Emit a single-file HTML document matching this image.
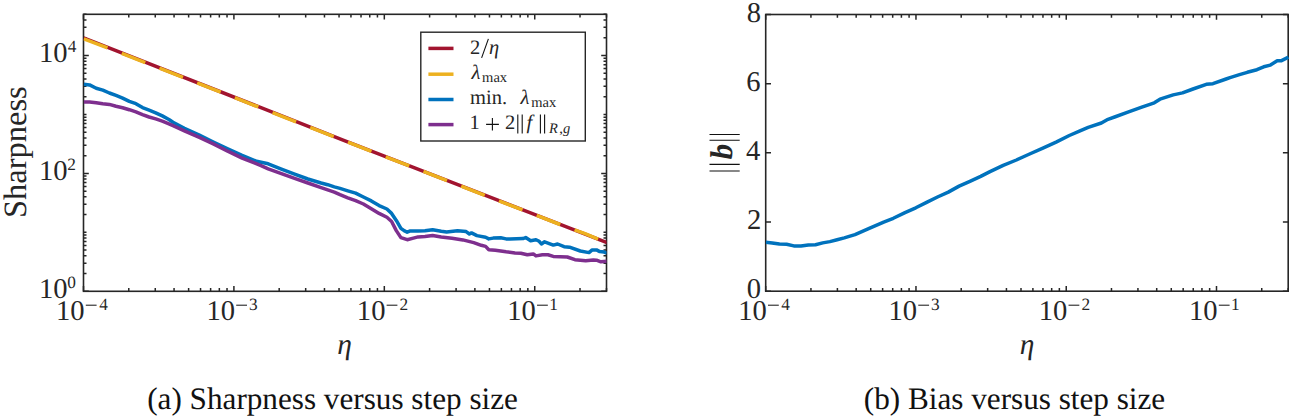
<!DOCTYPE html>
<html><head><meta charset="utf-8"><style>
html,body{margin:0;padding:0;background:#fff;width:1291px;height:416px;overflow:hidden}
svg{display:block;font-family:"Liberation Serif",serif;text-rendering:geometricPrecision}
</style></head><body>
<svg width="1291" height="416" viewBox="0 0 1291 416">
<defs>
<clipPath id="clipL"><rect x="83.5" y="14.3" width="523.0" height="277.0"/></clipPath>
<clipPath id="clipR"><rect x="765.7" y="14.5" width="524.0" height="276.7"/></clipPath>
</defs>
<rect width="1291" height="416" fill="#fff"/>
<rect x="83.50" y="14.30" width="523.00" height="277.00" fill="none" stroke="#262626" stroke-width="1.6"/><path d="M83.50 291.30v-5.3M83.50 14.30v5.3M128.78 291.30v-3.3M128.78 14.30v3.3M155.26 291.30v-3.3M155.26 14.30v3.3M174.06 291.30v-3.3M174.06 14.30v3.3M188.63 291.30v-3.3M188.63 14.30v3.3M200.54 291.30v-3.3M200.54 14.30v3.3M210.61 291.30v-3.3M210.61 14.30v3.3M219.34 291.30v-3.3M219.34 14.30v3.3M227.03 291.30v-3.3M227.03 14.30v3.3M233.91 291.30v-5.3M233.91 14.30v5.3M279.19 291.30v-3.3M279.19 14.30v3.3M305.68 291.30v-3.3M305.68 14.30v3.3M324.47 291.30v-3.3M324.47 14.30v3.3M339.05 291.30v-3.3M339.05 14.30v3.3M350.95 291.30v-3.3M350.95 14.30v3.3M361.02 291.30v-3.3M361.02 14.30v3.3M369.75 291.30v-3.3M369.75 14.30v3.3M377.44 291.30v-3.3M377.44 14.30v3.3M384.32 291.30v-5.3M384.32 14.30v5.3M429.60 291.30v-3.3M429.60 14.30v3.3M456.09 291.30v-3.3M456.09 14.30v3.3M474.88 291.30v-3.3M474.88 14.30v3.3M489.46 291.30v-3.3M489.46 14.30v3.3M501.37 291.30v-3.3M501.37 14.30v3.3M511.44 291.30v-3.3M511.44 14.30v3.3M520.16 291.30v-3.3M520.16 14.30v3.3M527.85 291.30v-3.3M527.85 14.30v3.3M534.74 291.30v-5.3M534.74 14.30v5.3M580.01 291.30v-3.3M580.01 14.30v3.3M606.50 291.30v-3.3M606.50 14.30v3.3" stroke="#262626" stroke-width="1.5" fill="none"/><path d="M83.50 291.30h5.3M606.50 291.30h-5.3M83.50 273.55h3.0M606.50 273.55h-3.0M83.50 263.17h3.0M606.50 263.17h-3.0M83.50 255.81h3.0M606.50 255.81h-3.0M83.50 250.10h3.0M606.50 250.10h-3.0M83.50 245.43h3.0M606.50 245.43h-3.0M83.50 241.48h3.0M606.50 241.48h-3.0M83.50 238.06h3.0M606.50 238.06h-3.0M83.50 235.05h3.0M606.50 235.05h-3.0M83.50 232.35h3.0M606.50 232.35h-3.0M83.50 214.60h3.0M606.50 214.60h-3.0M83.50 204.22h3.0M606.50 204.22h-3.0M83.50 196.86h3.0M606.50 196.86h-3.0M83.50 191.15h3.0M606.50 191.15h-3.0M83.50 186.48h3.0M606.50 186.48h-3.0M83.50 182.53h3.0M606.50 182.53h-3.0M83.50 179.11h3.0M606.50 179.11h-3.0M83.50 176.10h3.0M606.50 176.10h-3.0M83.50 173.40h5.3M606.50 173.40h-5.3M83.50 155.65h3.0M606.50 155.65h-3.0M83.50 145.27h3.0M606.50 145.27h-3.0M83.50 137.91h3.0M606.50 137.91h-3.0M83.50 132.20h3.0M606.50 132.20h-3.0M83.50 127.53h3.0M606.50 127.53h-3.0M83.50 123.58h3.0M606.50 123.58h-3.0M83.50 120.16h3.0M606.50 120.16h-3.0M83.50 117.15h3.0M606.50 117.15h-3.0M83.50 114.45h3.0M606.50 114.45h-3.0M83.50 96.70h3.0M606.50 96.70h-3.0M83.50 86.32h3.0M606.50 86.32h-3.0M83.50 78.96h3.0M606.50 78.96h-3.0M83.50 73.25h3.0M606.50 73.25h-3.0M83.50 68.58h3.0M606.50 68.58h-3.0M83.50 64.63h3.0M606.50 64.63h-3.0M83.50 61.21h3.0M606.50 61.21h-3.0M83.50 58.20h3.0M606.50 58.20h-3.0M83.50 55.50h5.3M606.50 55.50h-5.3M83.50 37.75h3.0M606.50 37.75h-3.0M83.50 27.37h3.0M606.50 27.37h-3.0M83.50 20.01h3.0M606.50 20.01h-3.0M83.50 14.30h3.0M606.50 14.30h-3.0" stroke="#262626" stroke-width="1.5" fill="none"/><rect x="765.70" y="14.50" width="522.50" height="276.70" fill="none" stroke="#262626" stroke-width="1.6"/><path d="M765.70 291.20v-5.3M765.70 14.50v5.3M810.94 291.20v-3.3M810.94 14.50v3.3M837.40 291.20v-3.3M837.40 14.50v3.3M856.17 291.20v-3.3M856.17 14.50v3.3M870.73 291.20v-3.3M870.73 14.50v3.3M882.63 291.20v-3.3M882.63 14.50v3.3M892.69 291.20v-3.3M892.69 14.50v3.3M901.41 291.20v-3.3M901.41 14.50v3.3M909.09 291.20v-3.3M909.09 14.50v3.3M915.97 291.20v-5.3M915.97 14.50v5.3M961.20 291.20v-3.3M961.20 14.50v3.3M987.66 291.20v-3.3M987.66 14.50v3.3M1006.44 291.20v-3.3M1006.44 14.50v3.3M1021.00 291.20v-3.3M1021.00 14.50v3.3M1032.90 291.20v-3.3M1032.90 14.50v3.3M1042.96 291.20v-3.3M1042.96 14.50v3.3M1051.67 291.20v-3.3M1051.67 14.50v3.3M1059.36 291.20v-3.3M1059.36 14.50v3.3M1066.24 291.20v-5.3M1066.24 14.50v5.3M1111.47 291.20v-3.3M1111.47 14.50v3.3M1137.93 291.20v-3.3M1137.93 14.50v3.3M1156.71 291.20v-3.3M1156.71 14.50v3.3M1171.27 291.20v-3.3M1171.27 14.50v3.3M1183.17 291.20v-3.3M1183.17 14.50v3.3M1193.23 291.20v-3.3M1193.23 14.50v3.3M1201.94 291.20v-3.3M1201.94 14.50v3.3M1209.63 291.20v-3.3M1209.63 14.50v3.3M1216.50 291.20v-5.3M1216.50 14.50v5.3M1261.74 291.20v-3.3M1261.74 14.50v3.3M1288.20 291.20v-3.3M1288.20 14.50v3.3" stroke="#262626" stroke-width="1.5" fill="none"/><path d="M765.70 291.20h5.3M1288.20 291.20h-5.3M765.70 222.02h5.3M1288.20 222.02h-5.3M765.70 152.85h5.3M1288.20 152.85h-5.3M765.70 83.68h5.3M1288.20 83.68h-5.3M765.70 14.50h5.3M1288.20 14.50h-5.3" stroke="#262626" stroke-width="1.5" fill="none"/><g clip-path="url(#clipL)" fill="none" stroke-linejoin="round" stroke-linecap="butt"><path d="M83.8 84.2 L89.6 84.9 L96.2 88.2 L102.8 90.1 L109.4 93.0 L116.0 95.4 L122.6 98.1 L129.3 101.4 L135.9 103.7 L142.5 107.6 L149.1 110.2 L155.7 112.8 L162.3 115.9 L168.9 119.5 L173.0 122.3 L184.4 128.3 L198.8 134.8 L213.3 142.0 L227.7 148.8 L242.1 155.3 L256.5 161.3 L268.2 163.8 L281.4 169.1 L294.6 174.1 L307.9 179.0 L321.1 183.0 L327.7 184.7 L334.3 186.9 L340.0 188.4 L347.8 190.8 L355.6 193.1 L363.4 197.0 L371.3 200.9 L379.1 205.6 L386.9 209.0 L391.6 213.4 L396.3 220.4 L400.9 228.3 L404.1 230.6 L407.2 232.2 L410.3 230.9 L418.1 230.9 L425.0 230.7 L432.6 229.7 L441.2 231.3 L446.6 232.0 L457.5 230.7 L466.1 231.6 L469.4 234.0 L471.5 232.9 L476.9 235.6 L485.6 237.2 L488.8 238.9 L493.2 238.1 L500.7 237.8 L506.1 238.9 L510.0 239.1 L523.0 238.6 L525.7 237.5 L530.6 240.7 L536.0 239.7 L539.2 241.3 L541.4 244.0 L544.6 241.8 L553.3 245.1 L557.6 244.0 L564.1 246.7 L569.5 247.2 L580.3 251.0 L589.0 252.6 L592.2 249.9 L596.5 249.9 L599.8 251.6 L604.1 252.1 L607.0 253.2" stroke="#0072BD" stroke-width="3.5"/><path d="M83.8 102.0 L89.6 102.0 L96.2 102.7 L102.8 103.7 L109.4 104.4 L116.0 106.3 L122.6 107.7 L129.3 109.7 L135.9 111.9 L142.5 114.6 L149.1 117.0 L155.7 118.9 L162.3 121.2 L168.9 123.8 L173.0 125.6 L184.4 130.8 L198.8 137.2 L213.3 143.9 L227.7 151.2 L242.1 158.1 L255.0 163.2 L261.6 165.8 L268.2 168.8 L281.4 173.7 L294.6 178.4 L307.9 183.0 L321.1 187.6 L334.3 192.2 L340.0 194.7 L347.8 197.8 L355.6 200.6 L363.4 204.0 L371.3 208.7 L379.1 213.4 L386.9 217.3 L391.6 221.5 L396.3 230.6 L400.9 237.6 L407.2 239.7 L413.4 238.1 L418.1 236.9 L425.0 236.6 L432.6 235.6 L441.2 237.0 L452.0 238.3 L462.9 239.9 L473.7 242.6 L481.3 245.3 L485.6 246.4 L488.8 249.7 L495.3 250.2 L506.1 251.8 L515.0 252.9 L520.8 253.2 L527.3 254.8 L533.3 253.9 L536.0 255.9 L542.4 254.8 L547.9 254.8 L553.3 256.4 L567.3 257.0 L574.9 259.7 L585.7 260.8 L593.3 260.0 L596.5 260.2 L600.9 261.8 L607.0 261.3" stroke="#7E2F8E" stroke-width="3.5"/><path d="M83.5 37.8 L345.0 140.8 L608.5 243.3" stroke="#A2142F" stroke-width="3.5"/><path d="M83.5 38.8 L120.0 52.6 L345.0 141.0 L560.0 224.5 L585.0 233.7 L608.5 243.2" stroke="#EDB120" stroke-width="3.5" stroke-dasharray="25.3 15.2" stroke-dashoffset="-0.4"/></g><g clip-path="url(#clipR)" fill="none" stroke-linejoin="round"><path d="M765.8 242.3 L772.2 242.9 L779.4 244.1 L786.6 244.3 L793.8 245.9 L801.0 245.9 L808.3 244.9 L815.5 244.7 L822.7 242.9 L829.9 241.6 L837.1 239.7 L844.3 237.9 L850.0 236.1 L855.0 234.6 L869.2 228.4 L883.7 222.1 L893.3 218.3 L905.0 212.6 L915.8 207.8 L926.6 202.4 L937.5 197.0 L948.3 192.1 L959.1 186.1 L969.9 181.3 L980.7 176.4 L990.0 171.6 L1003.2 165.3 L1016.4 160.0 L1029.6 154.0 L1042.9 148.1 L1056.1 142.1 L1069.3 135.5 L1080.0 130.8 L1088.2 127.3 L1101.4 123.0 L1108.0 119.3 L1114.6 117.0 L1127.9 112.1 L1141.1 107.4 L1154.3 102.8 L1160.0 99.2 L1173.2 94.9 L1182.5 92.9 L1193.0 89.0 L1206.3 84.3 L1212.9 83.7 L1226.1 79.0 L1230.0 77.6 L1239.5 74.7 L1247.3 72.3 L1256.9 69.7 L1263.7 66.8 L1270.4 65.1 L1277.2 60.8 L1281.0 60.8 L1288.5 57.2" stroke="#0072BD" stroke-width="3.5"/></g><rect x="420.8" y="32.2" width="164.5" height="108.8" fill="#fff" stroke="#262626" stroke-width="1.4"/><path d="M428.4 48.4H453.5" stroke="#A2142F" stroke-width="3.5"/><path d="M428.4 74.2H453.5" stroke="#EDB120" stroke-width="3.5"/><path d="M428.4 99.5H453.5" stroke="#0072BD" stroke-width="3.5"/><path d="M428.4 124.6H453.5" stroke="#7E2F8E" stroke-width="3.5"/>
<g font-family="Liberation Serif" fill="#262626">
<text x="38.93" y="298.00" font-size="28.60">10</text><text x="67.29" y="287.70" font-size="17.30">0</text><text x="38.93" y="180.10" font-size="28.60">10</text><text x="67.20" y="169.80" font-size="17.30">2</text><text x="38.93" y="62.20" font-size="28.60">10</text><text x="67.64" y="51.90" font-size="17.30">4</text><text x="56.04" y="320.00" font-size="28.60">10</text><text x="99.15" y="309.90" font-size="17.30">4</text><text x="206.46" y="320.00" font-size="28.60">10</text><text x="249.05" y="309.90" font-size="17.30">3</text><text x="356.87" y="320.00" font-size="28.60">10</text><text x="399.55" y="309.90" font-size="17.30">2</text><text x="507.28" y="320.00" font-size="28.60">10</text><text x="549.18" y="309.90" font-size="17.30">1</text><text x="738.24" y="320.00" font-size="28.60">10</text><text x="781.35" y="309.90" font-size="17.30">4</text><text x="888.51" y="320.00" font-size="28.60">10</text><text x="931.10" y="309.90" font-size="17.30">3</text><text x="1038.78" y="320.00" font-size="28.60">10</text><text x="1081.46" y="309.90" font-size="17.30">2</text><text x="1189.05" y="320.00" font-size="28.60">10</text><text x="1230.95" y="309.90" font-size="17.30">1</text><text x="746.64" y="298.20" font-size="28.60">0</text><text x="747.07" y="229.02" font-size="28.60">2</text><text x="745.93" y="159.85" font-size="28.60">4</text><text x="746.36" y="90.68" font-size="28.60">6</text><text x="746.64" y="21.50" font-size="28.60">8</text><text x="337.27" y="354.26" font-size="29.50" font-style="italic">η</text><text x="1019.77" y="354.26" font-size="29.50" font-style="italic">η</text><text transform="translate(25.7,152.2) rotate(-90)" font-size="32.5" text-anchor="middle">Sharpness</text><text transform="translate(732.4,159.39) rotate(-90)" font-size="31.5" font-weight="bold" font-style="italic">b</text><text x="469.88" y="53.80" font-size="20.50">2</text><text x="488.88" y="53.80" font-size="20.50" font-style="italic">η</text><text x="471.51" y="78.90" font-size="20.50" font-style="italic">λ</text><text x="482.11" y="81.60" font-size="14.50">max</text><text x="469.99" y="104.00" font-size="20.50">min.</text><text x="520.51" y="104.00" font-size="20.50" font-style="italic">λ</text><text x="531.31" y="107.10" font-size="14.50">max</text><text x="469.55" y="129.30" font-size="20.50">1</text><text x="504.98" y="129.30" font-size="20.50">2</text><text x="526.59" y="129.30" font-size="20.50" font-style="italic">f</text><text x="548.97" y="132.70" font-size="14.50" font-style="italic">R</text><text x="559.22" y="132.70" font-size="14.50">,</text><text x="563.00" y="132.70" font-size="14.50" font-style="italic">g</text><text x="147.20" y="408.70" font-size="31.20" fill="#111">(a) Sharpness versus step size</text><text x="863.80" y="408.70" font-size="31.20" fill="#111">(b) Bias versus step size</text><path d="M85.80 305.2h10.8M236.21 305.2h10.8M386.62 305.2h10.8M537.04 305.2h10.8M768.00 305.2h10.8M918.27 305.2h10.8M1068.54 305.2h10.8M1218.80 305.2h10.8" stroke="#111" stroke-width="1.0" fill="none"/><path d="M709.5 134.5H739.7M709.5 140.2H739.7M709.5 164.4H739.7M709.5 171.0H739.7M481.6 57.9L488.4 38.9M486.1 124.4H498.9M492.4 117.9V130.6M517.8 114.4V133.6M522.2 114.4V133.6M540.4 114.4V133.6M544.6 114.4V133.6" stroke="#111" stroke-width="1.1" fill="none"/>
</g>
</svg>
</body></html>
